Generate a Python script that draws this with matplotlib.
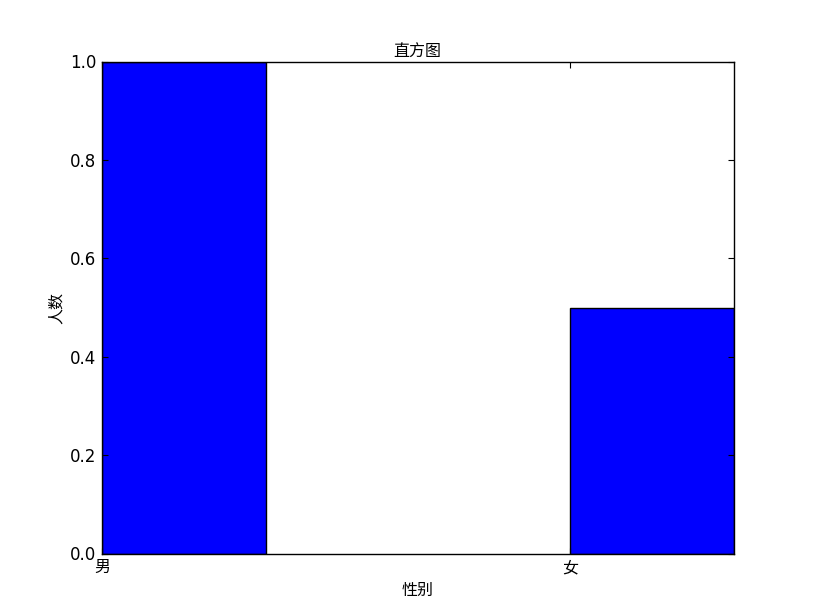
import matplotlib
matplotlib.use("Agg")
from matplotlib import pyplot as plt

# data
categories = ['男', '女']
positions = [0, 1]
counts = [1.0, 0.5]

plt.rcParams['font.family'] = ['Noto Sans CJK SC', 'DejaVu Sans']

fig = plt.figure(figsize=(8.15, 6.15), dpi=100)
ax = fig.add_axes([0.125, 0.1, 0.775, 0.8])

ax.bar(positions, counts, width=0.35, align='edge', color='#0000ff',
       edgecolor='black', linewidth=1.0)

ax.set_xlim(0, 1.35)
ax.set_ylim(0, 1.0)
ax.set_xticks(positions)
ax.set_xticklabels(categories, fontsize=11.5)
ax.set_yticks([0.0, 0.2, 0.4, 0.6, 0.8, 1.0])
ax.set_yticklabels(['0.0', '0.2', '0.4', '0.6', '0.8', '1.0'],
                   family='DejaVu Sans', fontsize=12)
ax.tick_params(direction='in', top=True, right=True, length=4, pad=4)
for s in ax.spines.values():
    s.set_linewidth(1.0)

ax.set_title('直方图', fontsize=11.5, pad=3)
ax.set_xlabel('性别', fontsize=11.5)
ax.set_ylabel('人数', fontsize=11.5)

fig.savefig('out.png', dpi=100)
